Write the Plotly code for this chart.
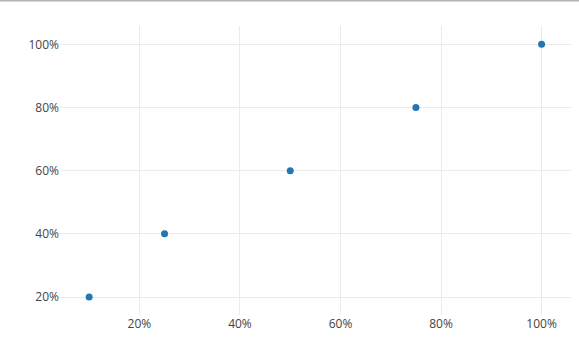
import plotly.graph_objects as go

x_values = [0.10, 0.25, 0.50, 0.75, 1.00]
y_values = [0.20, 0.40, 0.60, 0.80, 1.00]

fig = go.Figure(
    go.Scatter(
        x=x_values,
        y=y_values,
        mode="markers",
        marker=dict(color="#1f77b4", size=7),
    )
)

fig.update_layout(
    width=579,
    height=353,
    margin=dict(l=60, r=8, t=26, b=38),
    paper_bgcolor="white",
    plot_bgcolor="white",
    showlegend=False,
    font=dict(family="Open Sans, sans-serif", size=12, color="#444"),
    shapes=[
        dict(type="line", xref="paper", yref="paper",
             x0=-0.2, x1=1.2, y0=1 + 25.5 / 289, y1=1 + 25.5 / 289,
             line=dict(color="#b3b3b3", width=2)),
    ],
)
fig.update_xaxes(tickformat=".0%", showgrid=True, gridcolor="#ebebeb",
                 zeroline=False, showline=False, ticks="",
                 range=[0.042, 1.0585])
fig.update_yaxes(tickformat=".0%", showgrid=True, gridcolor="#ebebeb",
                 zeroline=False, showline=False, ticks="",
                 range=[0.143, 1.058])

fig.write_html("out.html")
